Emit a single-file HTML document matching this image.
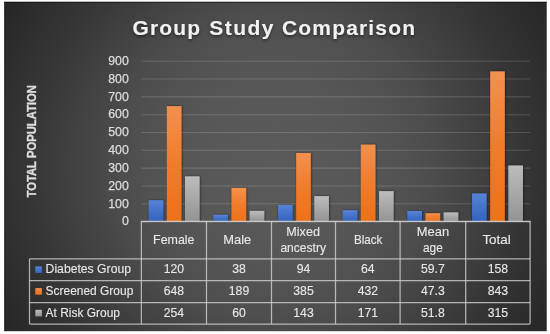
<!DOCTYPE html>
<html lang="en"><head><meta charset="utf-8"><title>Group Study Comparison</title>
<style>html,body{margin:0;padding:0;background:#fff;}body{width:550px;height:334px;overflow:hidden;}svg{display:block;}text{font-family:"Liberation Sans","DejaVu Sans",sans-serif;}</style></head><body>
<svg width="550" height="334" viewBox="0 0 550 334">
<defs>
<radialGradient id="bg" gradientUnits="userSpaceOnUse" cx="275.5" cy="166.5" r="318">
<stop offset="0.00" stop-color="#5a5a5a"/><stop offset="0.10" stop-color="#595959"/><stop offset="0.20" stop-color="#585858"/><stop offset="0.30" stop-color="#565656"/><stop offset="0.40" stop-color="#525252"/><stop offset="0.50" stop-color="#4c4c4c"/><stop offset="0.60" stop-color="#444444"/><stop offset="0.70" stop-color="#3c3c3c"/><stop offset="0.80" stop-color="#343434"/><stop offset="0.90" stop-color="#2d2d2d"/><stop offset="1.00" stop-color="#262626"/></radialGradient>
<linearGradient id="b" x1="0" y1="0" x2="0" y2="1"><stop offset="0" stop-color="#5783d6"/><stop offset="1" stop-color="#3362bd"/></linearGradient>
<linearGradient id="o" x1="0" y1="0" x2="0" y2="1"><stop offset="0" stop-color="#f3904f"/><stop offset="0.5" stop-color="#f07c2b"/><stop offset="1" stop-color="#ee7118"/></linearGradient>
<linearGradient id="g" x1="0" y1="0" x2="0" y2="1"><stop offset="0" stop-color="#bcbcbc"/><stop offset="1" stop-color="#939393"/></linearGradient>
<filter id="ts" x="-10%" y="-30%" width="120%" height="180%"><feDropShadow dx="0" dy="1.5" stdDeviation="1.6" flood-color="#000" flood-opacity="0.55"/></filter>
<filter id="bs" x="-30%" y="-10%" width="180%" height="130%"><feDropShadow dx="0.5" dy="0" stdDeviation="1.1" flood-color="#000" flood-opacity="0.6"/></filter>
</defs>
<rect x="0" y="0" width="550" height="334" fill="#fff"/>
<rect x="4.2" y="1.8" width="542.5" height="329.4" fill="url(#bg)"/>
<line x1="4.2" x2="546.7" y1="2.4" y2="2.4" stroke="#111" stroke-opacity="0.55" stroke-width="1.2"/><line x1="4.8" x2="4.8" y1="1.8" y2="331.2" stroke="#111" stroke-opacity="0.35" stroke-width="1.2"/>
<line x1="141.4" x2="530.1" y1="203.78" y2="203.78" stroke="#f2f2f2" stroke-opacity="0.17" stroke-width="1.1"/>
<line x1="141.4" x2="530.1" y1="185.96" y2="185.96" stroke="#f2f2f2" stroke-opacity="0.17" stroke-width="1.1"/>
<line x1="141.4" x2="530.1" y1="168.14" y2="168.14" stroke="#f2f2f2" stroke-opacity="0.17" stroke-width="1.1"/>
<line x1="141.4" x2="530.1" y1="150.32" y2="150.32" stroke="#f2f2f2" stroke-opacity="0.17" stroke-width="1.1"/>
<line x1="141.4" x2="530.1" y1="132.50" y2="132.50" stroke="#f2f2f2" stroke-opacity="0.17" stroke-width="1.1"/>
<line x1="141.4" x2="530.1" y1="114.68" y2="114.68" stroke="#f2f2f2" stroke-opacity="0.17" stroke-width="1.1"/>
<line x1="141.4" x2="530.1" y1="96.86" y2="96.86" stroke="#f2f2f2" stroke-opacity="0.17" stroke-width="1.1"/>
<line x1="141.4" x2="530.1" y1="79.04" y2="79.04" stroke="#f2f2f2" stroke-opacity="0.17" stroke-width="1.1"/>
<line x1="141.4" x2="530.1" y1="61.22" y2="61.22" stroke="#f2f2f2" stroke-opacity="0.17" stroke-width="1.1"/>
<g filter="url(#bs)">
<rect x="148.70" y="200.22" width="14.6" height="21.38" fill="url(#b)"/>
<rect x="166.85" y="106.13" width="14.6" height="115.47" fill="url(#o)"/>
<rect x="185.00" y="176.34" width="14.6" height="45.26" fill="url(#g)"/>
<rect x="213.37" y="214.83" width="14.6" height="6.77" fill="url(#b)"/>
<rect x="231.52" y="187.92" width="14.6" height="33.68" fill="url(#o)"/>
<rect x="249.67" y="210.91" width="14.6" height="10.69" fill="url(#g)"/>
<rect x="278.04" y="204.85" width="14.6" height="16.75" fill="url(#b)"/>
<rect x="296.19" y="152.99" width="14.6" height="68.61" fill="url(#o)"/>
<rect x="314.34" y="196.12" width="14.6" height="25.48" fill="url(#g)"/>
<rect x="342.71" y="210.20" width="14.6" height="11.40" fill="url(#b)"/>
<rect x="360.86" y="144.62" width="14.6" height="76.98" fill="url(#o)"/>
<rect x="379.01" y="191.13" width="14.6" height="30.47" fill="url(#g)"/>
<rect x="407.38" y="210.96" width="14.6" height="10.64" fill="url(#b)"/>
<rect x="425.53" y="213.17" width="14.6" height="8.43" fill="url(#o)"/>
<rect x="443.68" y="212.37" width="14.6" height="9.23" fill="url(#g)"/>
<rect x="472.05" y="193.44" width="14.6" height="28.16" fill="url(#b)"/>
<rect x="490.20" y="71.38" width="14.6" height="150.22" fill="url(#o)"/>
<rect x="508.35" y="165.47" width="14.6" height="56.13" fill="url(#g)"/>
</g>
<g stroke="#d2d2d2" stroke-width="1.25" fill="none" stroke-opacity="0.8">
<line x1="141.4" x2="141.4" y1="221.6" y2="324.0"/>
<line x1="206.5" x2="206.5" y1="221.6" y2="324.0"/>
<line x1="271.5" x2="271.5" y1="221.6" y2="324.0"/>
<line x1="335.5" x2="335.5" y1="221.6" y2="324.0"/>
<line x1="400.1" x2="400.1" y1="221.6" y2="324.0"/>
<line x1="465.7" x2="465.7" y1="221.6" y2="324.0"/>
<line x1="530.1" x2="530.1" y1="221.6" y2="324.0"/>
<line x1="29.5" x2="29.5" y1="258.8" y2="324.0"/>
<line x1="140.8" x2="530.7" y1="221.6" y2="221.6" stroke-width="1.5" stroke-opacity="0.9"/>
<line x1="29.5" x2="530.1" y1="258.8" y2="258.8"/>
<line x1="29.5" x2="530.1" y1="280.6" y2="280.6"/>
<line x1="29.5" x2="530.1" y1="302.6" y2="302.6"/>
<line x1="29.5" x2="530.1" y1="324.0" y2="324.0"/>
</g>
<g fill="#dcdcdc" stroke="#dcdcdc" stroke-width="0.25" font-size="12.3" text-anchor="end">
<text x="128.8" y="225.3">0</text>
<text x="128.8" y="207.5">100</text>
<text x="128.8" y="189.7">200</text>
<text x="128.8" y="171.8">300</text>
<text x="128.8" y="154.0">400</text>
<text x="128.8" y="136.2">500</text>
<text x="128.8" y="118.4">600</text>
<text x="128.8" y="100.6">700</text>
<text x="128.8" y="82.7">800</text>
<text x="128.8" y="64.9">900</text>
</g>
<g font-size="21" font-weight="bold" fill="#f2f2f2" filter="url(#ts)">
<text x="132.6" y="35" textLength="67.5" lengthAdjust="spacing">Group</text>
<text x="209.3" y="35" textLength="64.2" lengthAdjust="spacing">Study</text>
<text x="282.0" y="35" textLength="133.0" lengthAdjust="spacing">Comparison</text>
</g>
<text transform="translate(36,141.3) rotate(-90)" text-anchor="middle" font-size="12.4" font-weight="bold" fill="#dedede" stroke="#dedede" stroke-width="0.35" textLength="112.5" lengthAdjust="spacingAndGlyphs">TOTAL POPULATION</text>
<g fill="#e8e8e8" stroke="#e8e8e8" stroke-width="0.12" font-size="12.2" text-anchor="middle">
<text x="173.8" y="243.5" textLength="41.5" lengthAdjust="spacingAndGlyphs">Female</text>
<text x="237.3" y="243.5" textLength="28.0" lengthAdjust="spacingAndGlyphs">Male</text>
<text x="303.1" y="235.6" textLength="33.6" lengthAdjust="spacingAndGlyphs">Mixed</text>
<text x="303.2" y="251.9" textLength="45.6" lengthAdjust="spacingAndGlyphs">ancestry</text>
<text x="368.2" y="243.5" textLength="28.5" lengthAdjust="spacingAndGlyphs">Black</text>
<text x="433.0" y="235.6" textLength="32.4" lengthAdjust="spacingAndGlyphs">Mean</text>
<text x="432.9" y="251.9" textLength="19.8" lengthAdjust="spacingAndGlyphs">age</text>
<text x="496.6" y="243.5" textLength="28.4" lengthAdjust="spacingAndGlyphs">Total</text>
<text x="173.9" y="273.4">120</text>
<text x="239.0" y="273.4">38</text>
<text x="303.5" y="273.4">94</text>
<text x="367.8" y="273.4">64</text>
<text x="432.9" y="273.4">59.7</text>
<text x="497.9" y="273.4">158</text>
<text x="173.9" y="295.0">648</text>
<text x="239.0" y="295.0">189</text>
<text x="303.5" y="295.0">385</text>
<text x="367.8" y="295.0">432</text>
<text x="432.9" y="295.0">47.3</text>
<text x="497.9" y="295.0">843</text>
<text x="173.9" y="316.8">254</text>
<text x="239.0" y="316.8">60</text>
<text x="303.5" y="316.8">143</text>
<text x="367.8" y="316.8">171</text>
<text x="432.9" y="316.8">51.8</text>
<text x="497.9" y="316.8">315</text>
</g>
<g fill="#e8e8e8" stroke="#e8e8e8" stroke-width="0.12" font-size="12">
<rect x="35.3" y="266.4" width="6.6" height="6.6" fill="url(#b)" stroke="none"/>
<text x="45.6" y="273.4" textLength="85.4" lengthAdjust="spacingAndGlyphs">Diabetes Group</text>
<rect x="35.3" y="288.1" width="6.6" height="6.6" fill="url(#o)" stroke="none"/>
<text x="45.6" y="295.0" textLength="87.7" lengthAdjust="spacingAndGlyphs">Screened Group</text>
<rect x="35.3" y="309.8" width="6.6" height="6.6" fill="url(#g)" stroke="none"/>
<text x="45.6" y="316.8" textLength="74.4" lengthAdjust="spacingAndGlyphs">At Risk Group</text>
</g>
</svg></body></html>
